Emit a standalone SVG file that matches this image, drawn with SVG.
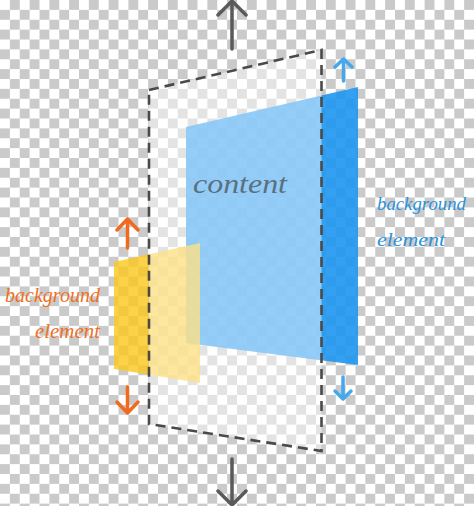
<svg xmlns="http://www.w3.org/2000/svg" width="474" height="506" viewBox="0 0 474 506">
  <defs>
    <pattern id="checker" x="0" y="0" width="19.75" height="19.75" patternUnits="userSpaceOnUse">
      <rect width="19.75" height="19.75" fill="#ffffff"/>
      <rect x="9.875" y="0" width="9.875" height="9.875" fill="#cacaca"/>
      <rect x="0" y="9.875" width="9.875" height="9.875" fill="#cacaca"/>
    </pattern>
  </defs>
  <style>
    .hand { font-family: "Liberation Serif", "DejaVu Serif", serif; font-style: italic; }
    .arrow { fill: none; stroke-width: 3.5; stroke-linecap: round; stroke-linejoin: round; }
    .gray { stroke: #5a5a5a; }
    .orange { stroke: #f26a1e; }
    .blue { stroke: #45a8ec; }
  </style>

  <rect id="background" x="0" y="0" width="474" height="506" fill="url(#checker)"/>

  <g id="blue-background-element">
    <polygon points="186,127 358,87 358,365 186,343" fill="#1e96f0" fill-opacity="0.9"/>
  </g>

  <g id="yellow-background-element">
    <polygon points="114,262 200,243 200,383 114,369" fill="#fbc71c" fill-opacity="0.8"/>
  </g>

  <g id="frame">
    <polygon points="149,90 321.5,50 321.5,451 149,424" fill="#ffffff" fill-opacity="0.47"/>
    <polygon points="149,90 321.5,50 321.5,451 149,424" fill="none" stroke="#4a4a4a" stroke-width="2.6" stroke-dasharray="10,6"/>
  </g>

  <g id="content-label">
    <text class="hand" x="193" y="193" font-size="28" fill="#5a7080" textLength="94" lengthAdjust="spacingAndGlyphs">content</text>
  </g>

  <g id="orange-label">
    <text class="hand" x="5" y="302" font-size="21" fill="#f0701f" textLength="95" lengthAdjust="spacingAndGlyphs">background</text>
    <text class="hand" x="35" y="338" font-size="21" fill="#f0701f" textLength="65" lengthAdjust="spacingAndGlyphs">element</text>
  </g>

  <g id="blue-label">
    <text class="hand" x="377" y="210" font-size="19.5" fill="#2b92dc" textLength="89" lengthAdjust="spacingAndGlyphs">background</text>
    <text class="hand" x="377" y="246" font-size="19.5" fill="#2b92dc" textLength="68" lengthAdjust="spacingAndGlyphs">element</text>
  </g>

  <g id="connectors">
    <path class="arrow gray" d="M232,49 L232,1 M218,15 L232,1 L246,15"/>
    <path class="arrow gray" d="M232,459 L232,505 M218,491 L232,505 L246,491"/>
    <path class="arrow orange" d="M127.5,248 L127.5,219 M117,230 L127.5,219 L138,230"/>
    <path class="arrow orange" d="M127.5,387 L127.5,413 M117,402 L127.5,413 L138,402"/>
    <path class="arrow blue" d="M343.5,81 L343.5,59 M335,67 L343.5,59 L352,67"/>
    <path class="arrow blue" d="M343,377 L343,399 M335,391 L343,399 L351,391"/>
  </g>
</svg>
